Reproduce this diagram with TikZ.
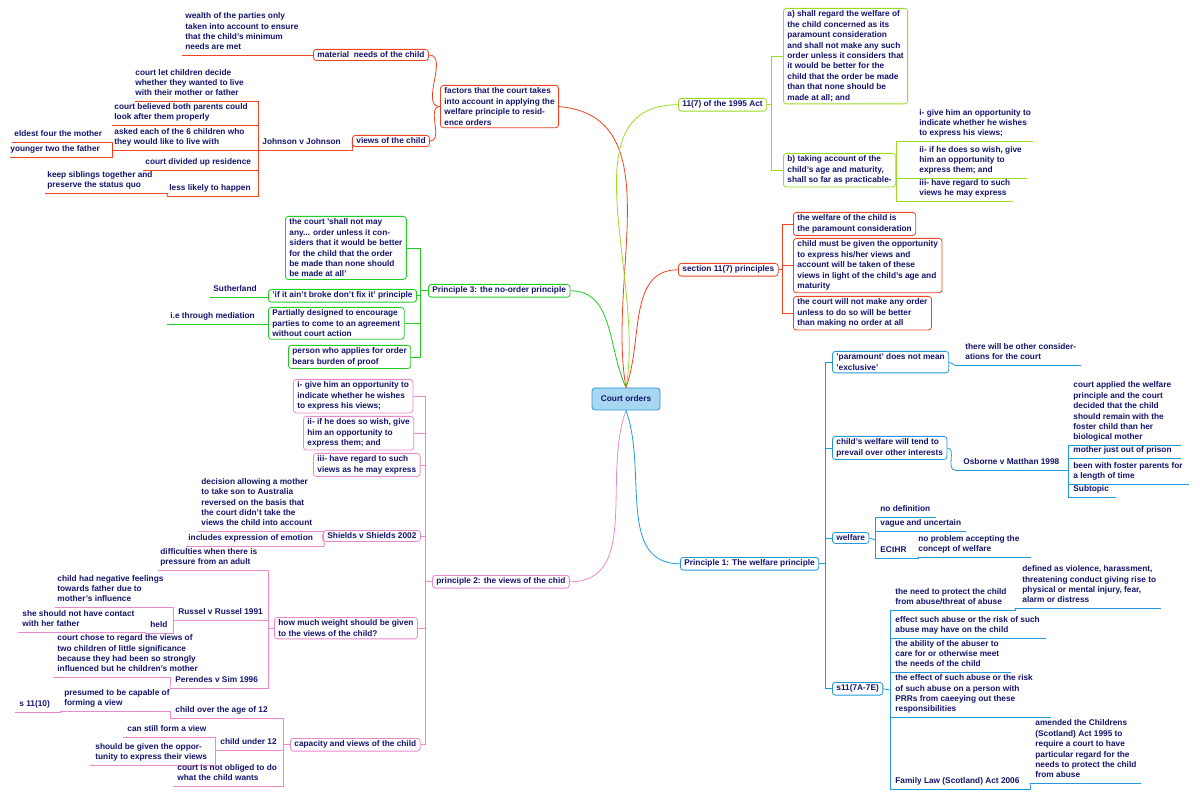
\documentclass[tikz,border=0pt]{standalone}
\usepackage{fontspec}
\setmainfont{Liberation Sans}
\definecolor{navy}{HTML}{15156E}
\definecolor{cred}{HTML}{EE4422}
\definecolor{cgreen}{HTML}{22CC22}
\definecolor{cpink}{HTML}{EE88CC}
\definecolor{clime}{HTML}{99DD22}
\definecolor{cblue}{HTML}{2299DD}
\newcommand\ff{\fontsize{8.3}{10.4}\selectfont\bfseries}
\newcommand\ut[6]{\node[ut] (#1) at (#3,#4) {\makebox[#5pt][l]{\begin{tabular}{@{}l@{}}#6\end{tabular}}};\draw[#2,line width=.8pt] (#1.south west)--(#1.south east);}
\newcommand\bx[5]{\node[box,draw=#2] (#1) at (#3,#4) {#5};}
\begin{document}
\begin{tikzpicture}[x=1pt,y=-1pt,
 box/.style={rounded corners=3pt,line width=.8pt,align=left,inner xsep=4pt,inner ysep=2.5pt,font=\ff,text=navy,anchor=north west},
 ut/.style={anchor=south west,align=left,inner xsep=0pt,inner ysep=1.5pt,font=\ff,text=navy},
 every path/.style={line width=.8pt}]
\useasboundingbox[fill=white] (0,0) rectangle (1200,799);
\node[box,anchor=center,fill=cblue!40,draw=cblue,minimum width=68pt,minimum height=22pt,align=center] (c) at (626,399) {Court orders};
% red left
\begin{scope}[cred]
\bx{factors}{cred}{440}{85}{factors that the court takes\\into account in applying the\\welfare principle to resid-\\ence orders}
\bx{material}{cred}{313}{49}{material\ \ needs of the child}
\ut{wealth}{cred}{182}{55}{131}{\hspace*{3pt}wealth of the parties only\\\hspace*{3pt}taken into account to ensure\\\hspace*{3pt}that the child's minimum\\\hspace*{3pt}needs are met}
\bx{views}{cred}{352}{135}{views of the child}
\ut{john}{cred}{258}{150}{94}{\hspace*{4pt}Johnson v Johnson}
\ut{c1}{cred}{135}{101}{123}{court let children decide\\whether they wanted to live\\with their mother or father}
\ut{c2}{cred}{112}{125}{146}{\hspace*{2pt}court believed both parents could\\\hspace*{2pt}look after them properly}
\ut{c3}{cred}{112}{150}{146}{\hspace*{2pt}asked each of the 6 children who\\\hspace*{2pt}they would like to live with}
\ut{eld}{cred}{12}{142}{100}{\hspace*{2pt}eldest four the mother}
\ut{you}{cred}{10}{157}{102}{younger two the father}
\ut{c4}{cred}{143}{170}{115}{\hspace*{2pt}court divided up residence}
\ut{c5}{cred}{167}{196}{91}{\hspace*{2pt}less likely to happen}
\ut{keep}{cred}{45}{193}{122}{\hspace*{2pt}keep siblings together and\\\hspace*{2pt}preserve the status quo}
\draw (material.west) to[out=180,in=0] (wealth.south east);
\draw (views.west) -- (john.south east);
\foreach \n in {c1,c2,c3,c4,c5} \draw (john.south west) |- (\n.south east);
\draw (c3.south west) |- (eld.south east);
\draw (c3.south west) |- (you.south east);
\draw (c5.south west) to[out=180,in=0] (keep.south east);
\draw (factors.west) to[out=180,in=0] (material.east);
\draw (factors.west) to[out=180,in=0] (views.east);
\draw (c.north) to[out=100,in=-5] (factors.east);
\end{scope}
% green
\begin{scope}[cgreen]
\bx{p3}{cgreen}{428}{284}{Principle 3: the no-order principle}
\bx{g1}{cgreen}{285}{216}{the court 'shall not may\\any... order unless it con-\\siders that it would be better\\for the child that the order\\be made than none should\\be made at all'}
\bx{g2}{cgreen}{268}{289}{'if it ain't broke don't fix it' principle}
\bx{g3}{cgreen}{268}{307}{Partially designed to encourage\\parties to come to an agreement\\without court action}
\bx{g4}{cgreen}{288}{345}{person who applies for order\\bears burden of proof}
\ut{suth}{cgreen}{210}{297}{58}{\hspace*{3pt}Sutherland}
\ut{med}{cgreen}{167}{324}{101}{\hspace*{3pt}i.e through mediation}
\draw (p3.west) -- ++(-8,0) coordinate (gj);
\foreach \n in {g1,g2,g3,g4} \draw (gj) |- (\n.east);
\draw (g2.west) -- (suth.south east);
\draw (g3.west) -- (med.south east);
\draw (c.north) to[out=115,in=0] (p3.east);
\end{scope}
% pink
\begin{scope}[cpink]
\bx{p2}{cpink}{432}{575}{principle 2: the views of the chid}
\bx{k1}{cpink}{293}{379}{i- give him an opportunity to\\indicate whether he wishes\\to express his views;}
\bx{k2}{cpink}{303}{416}{ii- if he does so wish, give\\him an opportunity to\\express them; and}
\bx{k3}{cpink}{313}{453}{iii- have regard to such\\views as he may express}
\bx{shields}{cpink}{323}{530}{Shields v Shields 2002}
\ut{dec}{cpink}{198}{531}{125}{\hspace*{3pt}decision allowing a mother\\\hspace*{3pt}to take son to Australia\\\hspace*{3pt}reversed on the basis that\\\hspace*{3pt}the court didn't take the\\\hspace*{3pt}views the child into account}
\ut{emo}{cpink}{186}{546}{137}{\hspace*{2pt}includes expression of emotion}
\draw (shields.west) to[out=180,in=0] (dec.south east);
\draw (shields.west) to[out=180,in=0] (emo.south east);
\bx{weight}{cpink}{274}{617}{how much weight should be given\\to the views of the child?}
\ut{diff}{cpink}{158}{570}{110}{\hspace*{2pt}difficulties when there is\\\hspace*{2pt}pressure from an adult}
\ut{russ}{cpink}{173}{620}{95}{\hspace*{5pt}Russel v Russel 1991}
\ut{neg}{cpink}{55}{607}{118}{\hspace*{2pt}child had negative feelings\\\hspace*{2pt}towards father due to\\\hspace*{2pt}mother's influence}
\ut{held}{cpink}{145}{633}{28}{\hspace*{5pt}held}
\ut{she}{cpink}{18}{632}{127}{\hspace*{4pt}she should not have contact\\\hspace*{4pt}with her father}
\ut{per}{cpink}{170}{688}{98}{\hspace*{5pt}Perendes v Sim 1996}
\ut{chose}{cpink}{53}{677}{117}{\hspace*{4pt}court chose to regard the views of\\\hspace*{4pt}two children of little significance\\\hspace*{4pt}because they had been so strongly\\\hspace*{4pt}influenced but he children's mother}
\draw (weight.west) -- ++(-6,0) coordinate (wj);
\foreach \n in {diff,russ,per} \draw (wj) |- (\n.south east);
\draw (russ.south west) |- (neg.south east);
\draw (russ.south west) |- (held.south east);
\draw (held.south west) -- (she.south east);
\draw (per.south west) -- (chose.south east);
\bx{cap}{cpink}{290}{738}{capacity and views of the child}
\ut{o12}{cpink}{170}{718}{113}{\hspace*{5pt}child over the age of 12}
\ut{pres}{cpink}{60}{711}{110}{\hspace*{4pt}presumed to be capable of\\\hspace*{4pt}forming a view}
\ut{s1110}{cpink}{15}{712}{45}{\hspace*{4pt}s 11(10)}
\ut{u12}{cpink}{215}{750}{68}{\hspace*{5pt}child under 12}
\ut{can}{cpink}{123}{737}{90}{\hspace*{4pt}can still form a view}
\ut{should}{cpink}{90}{765}{123}{\hspace*{5pt}should be given the oppor-\\\hspace*{5pt}tunity to express their views}
\ut{notob}{cpink}{173}{786}{110}{\hspace*{4pt}court is not obliged to do\\\hspace*{4pt}what the child wants}
\draw (cap.west) -- ++(-7,0) coordinate (cj);
\foreach \n in {o12,u12,notob} \draw (cj) |- (\n.south east);
\draw (o12.south west) |- (pres.south east);
\draw (pres.south west) |- (s1110.south east);
\draw (u12.south west) |- (can.south east);
\draw (u12.south west) |- (should.south east);
\draw (p2.west) -- ++(-7,0) coordinate (pj);
\foreach \n in {k1,k2,k3,shields,weight,cap} \draw (pj) |- (\n.east);
\draw (c.south) to[out=250,in=0] (p2.east);
\end{scope}
% lime
\begin{scope}[clime]
\bx{a117}{clime}{678}{98}{11(7) of the 1995 Act}
\bx{la}{clime}{783}{8}{a) shall regard the welfare of\\the child concerned as its\\paramount consideration\\and shall not make any such\\order unless it considers that\\it would be better for the\\child that the order be made\\than that none should be\\made at all; and}
\bx{lb}{clime}{783}{153}{b) taking account of the\\child's age and maturity,\\shall so far as practicable-}
\ut{li}{clime}{916}{141}{116}{\hspace*{3pt}i- give him an opportunity to\\\hspace*{3pt}indicate whether he wishes\\\hspace*{3pt}to express his views;}
\ut{lii}{clime}{916}{178}{110}{\hspace*{3pt}ii- if he does so wish, give\\\hspace*{3pt}him an opportunity to\\\hspace*{3pt}express them; and}
\ut{liii}{clime}{916}{201}{96}{\hspace*{3pt}iii- have regard to such\\\hspace*{3pt}views he may express}
\foreach \n in {li,lii,liii} \draw (lb.east) |- (\n.south west);
\draw (a117.east) -- ++(4,0) coordinate (lj);
\draw (lj) |- (la.west); \draw (lj) |- (lb.west);
\draw (c.north) to[out=80,in=180] (a117.west);
\end{scope}
% red right
\begin{scope}[cred]
\bx{s117}{cred}{678}{263}{section 11(7) principles}
\bx{r1}{cred}{793}{212}{the welfare of the child is\\the paramount consideration}
\bx{r2}{cred}{793}{238}{child must be given the opportunity\\to express his/her views and\\account will be taken of these\\views in light of the child's age and\\maturity}
\bx{r3}{cred}{793}{296}{the court will not make any order\\unless to do so will be better\\than making no order at all}
\draw (s117.east) -- ++(4,0) coordinate (rj);
\foreach \n in {r1,r2,r3} \draw (rj) |- (\n.west);
\draw (c.north) to[out=70,in=180] (s117.west);
\end{scope}
% blue
\begin{scope}[cblue]
\bx{p1}{cblue}{680}{557}{Principle 1: The welfare principle}
\bx{b1}{cblue}{832}{351}{'paramount' does not mean\\'exclusive'}
\ut{other}{cblue}{955}{365}{125}{\hspace*{10pt}there will be other consider-\\\hspace*{10pt}ations for the court}
\draw (b1.east) -- (other.south west);
\bx{b2}{cblue}{832}{436}{child's welfare will tend to\\prevail over other interests}
\ut{osb}{cblue}{955}{470}{113}{\hspace*{8pt}Osborne v Matthan 1998}
\draw (b2.east) to[out=0,in=180] (osb.south west);
\ut{oa}{cblue}{1068}{445}{112}{\hspace*{5pt}court applied the welfare\\\hspace*{5pt}principle and the court\\\hspace*{5pt}decided that the child\\\hspace*{5pt}should remain with the\\\hspace*{5pt}foster child than her\\\hspace*{5pt}biological mother}
\ut{ob}{cblue}{1068}{458}{112}{\hspace*{5pt}mother just out of prison}
\ut{oc}{cblue}{1068}{484}{120}{\hspace*{5pt}been with foster parents for\\\hspace*{5pt}a length of time}
\ut{od}{cblue}{1068}{497}{47}{\hspace*{5pt}Subtopic}
\foreach \n in {oa,ob,oc,od} \draw (osb.south east) |- (\n.south west);
\bx{b3}{cblue}{832}{532}{welfare}
\ut{w1}{cblue}{875}{517}{60}{\hspace*{5pt}no definition}
\ut{w2}{cblue}{875}{531}{90}{\hspace*{5pt}vague and uncertain}
\ut{w3}{cblue}{875}{558}{43}{\hspace*{5pt}ECtHR}
\ut{w3a}{cblue}{918}{557}{112}{no problem accepting the\\concept of welfare}
\draw (w3.south east) -- (w3a.south west);
\draw (b3.east) -- (875,540) coordinate (wj2);
\foreach \n in {w1,w2,w3} \draw (wj2) |- (\n.south west);
\bx{b4}{cblue}{832}{682}{s11(7A-7E)}
\ut{s1}{cblue}{890}{610}{125}{\hspace*{5pt}the need to protect the child\\\hspace*{5pt}from abuse/threat of abuse}
\ut{s1a}{cblue}{1015}{608}{145}{\hspace*{7pt}defined as violence, harassment,\\\hspace*{7pt}threatening conduct giving rise to\\\hspace*{7pt}physical or mental injury, fear,\\\hspace*{7pt}alarm or distress}
\draw (s1.south east) -- (s1a.south west);
\ut{s2}{cblue}{890}{638}{155}{\hspace*{5pt}effect such abuse or the risk of such\\\hspace*{5pt}abuse may have on the child}
\ut{s3}{cblue}{890}{672}{120}{\hspace*{5pt}the ability of the abuser to\\\hspace*{5pt}care for or otherwise meet\\\hspace*{5pt}the needs of the child}
\ut{s4}{cblue}{890}{717}{160}{\hspace*{5pt}the effect of such abuse or the risk\\\hspace*{5pt}of such abuse on a person with\\\hspace*{5pt}PRRs from caeeying out these\\\hspace*{5pt}responsibilities}
\ut{s5}{cblue}{890}{789}{140}{\hspace*{5pt}Family Law (Scotland) Act 2006}
\ut{s5a}{cblue}{1030}{783}{110}{\hspace*{5pt}amended the Childrens\\\hspace*{5pt}(Scotland) Act 1995 to\\\hspace*{5pt}require a court to have\\\hspace*{5pt}particular regard for the\\\hspace*{5pt}needs to protect the child\\\hspace*{5pt}from abuse}
\draw (s5.south east) -- (s5a.south west);
\draw (b4.east) -- (890,690) coordinate (sj);
\foreach \n in {s1,s2,s3,s4,s5} \draw (sj) |- (\n.south west);
\draw (p1.east) -- ++(6,0) coordinate (bj);
\foreach \n in {b1,b2,b3,b4} \draw (bj) |- (\n.west);
\draw (c.south) to[out=-70,in=180] (p1.west);
\end{scope}
\end{tikzpicture}
\end{document}
